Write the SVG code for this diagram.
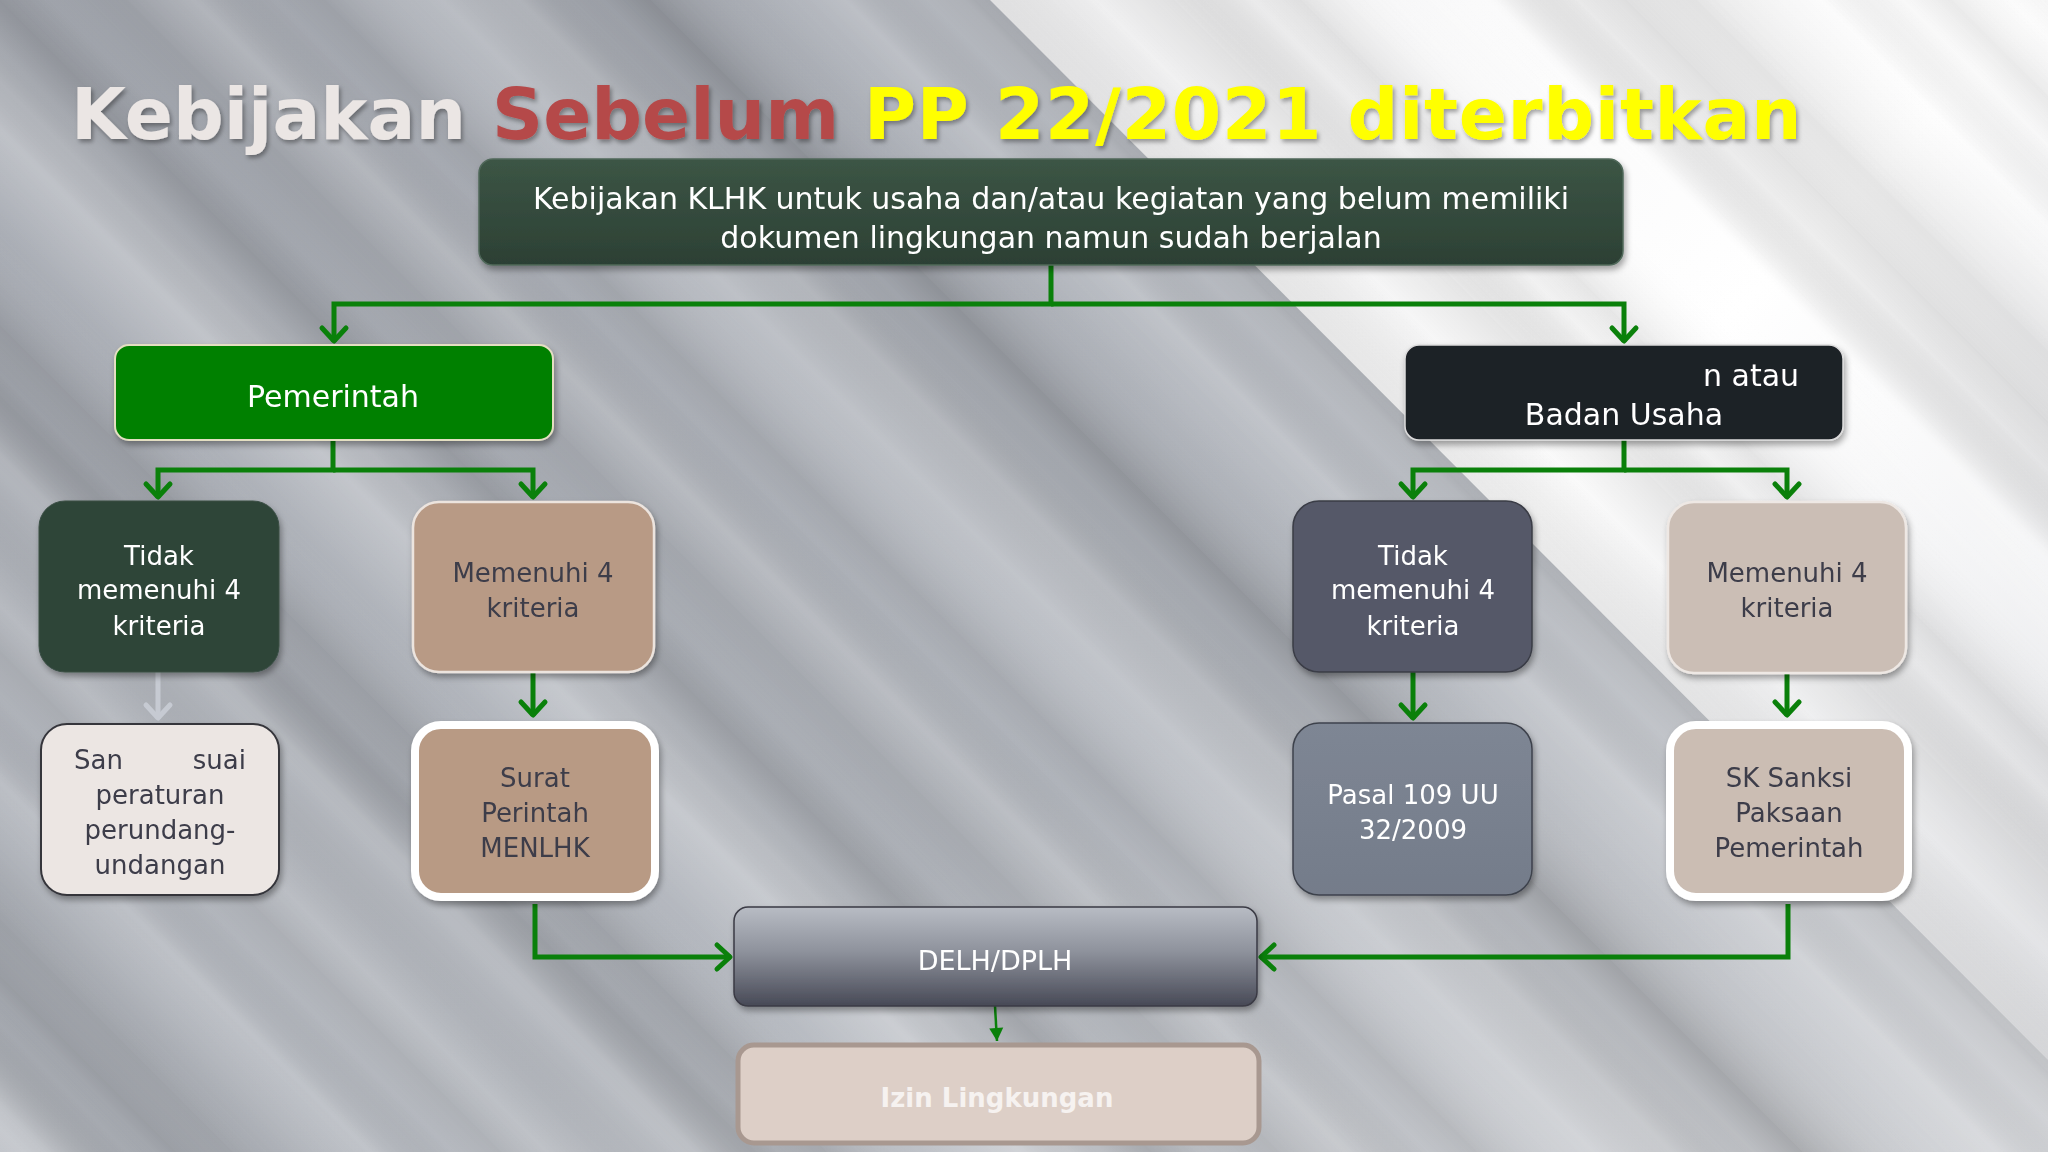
<svg xmlns="http://www.w3.org/2000/svg" width="2048" height="1152" viewBox="0 0 2048 1152">
<defs>
<style>
.t{font-family:"DejaVu Sans","Liberation Sans",sans-serif;text-anchor:middle}
.w{fill:#ffffff}
.d{fill:#3c3c4a}
.f26{font-size:26px}
.f30{font-size:30px}
.con{fill:none;stroke:#0a800a;stroke-width:5;marker-end:url(#chev)}
</style>
<linearGradient id="bg" x1="0" y1="0" x2="1" y2="1">
<stop offset="0" stop-color="#a4a8b0"/>
<stop offset="0.6" stop-color="#b2b6bd"/>
<stop offset="1" stop-color="#cfd1d5"/>
</linearGradient>
<linearGradient id="wh" x1="0" y1="0" x2="1" y2="1">
<stop offset="0" stop-color="#f2f2f3"/>
<stop offset="0.5" stop-color="#ffffff"/>
<stop offset="1" stop-color="#e4e5e8"/>
</linearGradient>
<linearGradient id="cyl" x1="0" y1="0" x2="1" y2="0">
<stop offset="0" stop-color="#000" stop-opacity="0.08"/>
<stop offset="0.3" stop-color="#fff" stop-opacity="0.02"/>
<stop offset="0.6" stop-color="#fff" stop-opacity="0.18"/>
<stop offset="0.85" stop-color="#000" stop-opacity="0.02"/>
<stop offset="1" stop-color="#000" stop-opacity="0.09"/>
</linearGradient>
<pattern id="st1" width="230" height="20" patternUnits="userSpaceOnUse" patternTransform="rotate(-45)">
<rect width="230" height="20" fill="url(#cyl)"/>
</pattern>
<pattern id="st2" width="370" height="20" patternUnits="userSpaceOnUse" patternTransform="rotate(-45) translate(90 0)">
<rect width="370" height="20" fill="url(#cyl)"/>
</pattern>
<linearGradient id="topg" x1="0" y1="0" x2="0" y2="1">
<stop offset="0" stop-color="#3c5545"/>
<stop offset="1" stop-color="#2c4034"/>
</linearGradient>
<linearGradient id="delh" x1="0" y1="0" x2="0" y2="1">
<stop offset="0" stop-color="#b8bcc4"/>
<stop offset="0.45" stop-color="#8e929c"/>
<stop offset="1" stop-color="#474956"/>
</linearGradient>
<linearGradient id="pas" x1="0" y1="0" x2="0" y2="1">
<stop offset="0" stop-color="#7e8694"/>
<stop offset="1" stop-color="#747c8a"/>
</linearGradient>
<filter id="sh" x="-10%" y="-10%" width="130%" height="140%">
<feDropShadow dx="2" dy="4" stdDeviation="3" flood-color="#000" flood-opacity="0.35"/>
</filter>
<filter id="tsh" x="-5%" y="-20%" width="110%" height="150%">
<feDropShadow dx="2" dy="3" stdDeviation="2" flood-color="#000" flood-opacity="0.35"/>
</filter>
<marker id="chev" markerUnits="userSpaceOnUse" viewBox="-20 -16 24 32" markerWidth="24" markerHeight="32" refX="0" refY="0" orient="auto">
<path d="M-14,-12 L-1,0 L-14,12" fill="none" stroke="#0a800a" stroke-width="5" stroke-linecap="round" stroke-linejoin="round"/>
</marker>
<marker id="chevg" markerUnits="userSpaceOnUse" viewBox="-20 -16 24 32" markerWidth="24" markerHeight="32" refX="0" refY="0" orient="auto">
<path d="M-14,-12 L-1,0 L-14,12" fill="none" stroke="#c6cad2" stroke-width="5" stroke-linecap="round" stroke-linejoin="round"/>
</marker>
<marker id="tri" markerUnits="userSpaceOnUse" viewBox="-14 -8 16 16" markerWidth="16" markerHeight="16" refX="0" refY="0" orient="auto">
<path d="M-13,-7 L0,0 L-13,7 Z" fill="#0a800a"/>
</marker>
</defs>

<g id="background">
<rect width="2048" height="1152" fill="url(#bg)"/>
<polygon points="990,0 2048,0 2048,1060" fill="url(#wh)"/>
<rect width="2048" height="1152" fill="url(#st1)"/>
<rect width="2048" height="1152" fill="url(#st2)"/>
</g>

<g id="title" filter="url(#tsh)">
<text y="139" font-family="'DejaVu Sans','Liberation Sans',sans-serif" font-weight="bold" font-size="71"><tspan x="71" fill="#ebe6e4">Kebijakan</tspan><tspan x="492" fill="#b54a4a">Sebelum</tspan><tspan x="864" fill="#ffff00" letter-spacing="0.7">PP 22/2021 diterbitkan</tspan></text>
</g>

<g id="connectors">
<path class="con" d="M1051,265 V304 H334 V342"/>
<path class="con" d="M1051,304 H1624 V342"/>
<path class="con" d="M333,440 V470 H158 V498"/>
<path class="con" d="M333,470 H533 V498"/>
<path class="con" d="M1624,440 V470 H1413 V498"/>
<path class="con" d="M1624,470 H1787 V498"/>
<path d="M158,672 V719" fill="none" stroke="#c6cad2" stroke-width="5" marker-end="url(#chevg)"/>
<path class="con" d="M533,672 V716"/>
<path class="con" d="M1413,672 V719"/>
<path class="con" d="M1787,673 V716"/>
<path class="con" d="M535,904 V957 H731"/>
<path class="con" d="M1788,904 V957 H1260"/>
<path d="M995,1006 L997,1041" fill="none" stroke="#0a800a" stroke-width="2.5" marker-end="url(#tri)"/>
</g>

<g id="node-top" filter="url(#sh)">
<rect x="479" y="159" width="1144" height="106" rx="14" fill="url(#topg)" stroke="#50685a" stroke-width="1.5"/>
<text class="t w f30" x="1051" y="209">Kebijakan KLHK untuk usaha dan/atau kegiatan yang belum memiliki</text>
<text class="t w f30" x="1051" y="248">dokumen lingkungan namun sudah berjalan</text>
</g>

<g id="node-pemerintah" filter="url(#sh)">
<rect x="115" y="345" width="438" height="95" rx="14" fill="#008000" stroke="#e4dfc2" stroke-width="2"/>
<text class="t w f30" x="333" y="407">Pemerintah</text>
</g>

<g id="node-badan" filter="url(#sh)">
<rect x="1405" y="345" width="438" height="95" rx="14" fill="#1f2027" stroke="#dcdcdc" stroke-width="1.5"/>
<text class="t w f30" x="1751" y="386">n atau</text>
<text class="t w f30" x="1624" y="425">Badan Usaha</text>
</g>

<g id="node-tidak-left" filter="url(#sh)">
<rect x="39" y="501" width="240" height="171" rx="26" fill="#2e4439" stroke="#3a4e44" stroke-width="1"/>
<text class="t w f26" x="159" y="565">Tidak</text>
<text class="t w f26" x="159" y="599">memenuhi 4</text>
<text class="t w f26" x="159" y="635">kriteria</text>
</g>

<g id="node-memenuhi-left" filter="url(#sh)">
<rect x="413" y="502" width="241" height="170" rx="26" fill="#b89a85" stroke="#ece4de" stroke-width="2.5"/>
<text class="t d f26" x="533" y="582">Memenuhi 4</text>
<text class="t d f26" x="533" y="617">kriteria</text>
</g>

<g id="node-san" filter="url(#sh)">
<rect x="41" y="724" width="238" height="171" rx="26" fill="#ece6e3" stroke="#34343a" stroke-width="2"/>
<text class="d f26" font-family="'DejaVu Sans','Liberation Sans',sans-serif" y="769"><tspan x="74" text-anchor="start">San</tspan><tspan x="246" text-anchor="end">suai</tspan></text>
<text class="t d f26" x="160" y="804">peraturan</text>
<text class="t d f26" x="160" y="839">perundang-</text>
<text class="t d f26" x="160" y="874">undangan</text>
</g>

<g id="node-surat" filter="url(#sh)">
<rect x="415" y="725" width="240" height="172" rx="26" fill="#b89a84" stroke="#ffffff" stroke-width="8"/>
<text class="t d f26" x="535" y="787">Surat</text>
<text class="t d f26" x="535" y="822">Perintah</text>
<text class="t d f26" x="535" y="857">MENLHK</text>
</g>

<g id="node-tidak-right" filter="url(#sh)">
<rect x="1293" y="501" width="239" height="171" rx="26" fill="#555867" stroke="#3a3c46" stroke-width="1.5"/>
<text class="t w f26" x="1413" y="565">Tidak</text>
<text class="t w f26" x="1413" y="599">memenuhi 4</text>
<text class="t w f26" x="1413" y="635">kriteria</text>
</g>

<g id="node-memenuhi-right" filter="url(#sh)">
<rect x="1668" y="502" width="238" height="171" rx="26" fill="#cbbeb5" stroke="#eee8e4" stroke-width="2.5"/>
<text class="t d f26" x="1787" y="582">Memenuhi 4</text>
<text class="t d f26" x="1787" y="617">kriteria</text>
</g>

<g id="node-pasal" filter="url(#sh)">
<rect x="1293" y="723" width="239" height="172" rx="26" fill="url(#pas)" stroke="#3e424c" stroke-width="1.5"/>
<text class="t w f26" x="1413" y="804">Pasal 109 UU</text>
<text class="t w f26" x="1413" y="839">32/2009</text>
</g>

<g id="node-sk" filter="url(#sh)">
<rect x="1670" y="725" width="238" height="172" rx="26" fill="#cbbdb3" stroke="#ffffff" stroke-width="8"/>
<text class="t d f26" x="1789" y="787">SK Sanksi</text>
<text class="t d f26" x="1789" y="822">Paksaan</text>
<text class="t d f26" x="1789" y="857">Pemerintah</text>
</g>

<g id="node-delh" filter="url(#sh)">
<rect x="734" y="907" width="523" height="99" rx="14" fill="url(#delh)" stroke="#3a3a44" stroke-width="1.5"/>
<text class="t w" font-size="27" x="995" y="970">DELH/DPLH</text>
</g>

<g id="node-izin">
<rect x="738" y="1045" width="521" height="98" rx="16" fill="#ddcfc7" stroke="#a89890" stroke-width="5"/>
<text class="t" font-weight="bold" font-size="26" fill="#f6f2f0" x="997" y="1107">Izin Lingkungan</text>
</g>
</svg>
